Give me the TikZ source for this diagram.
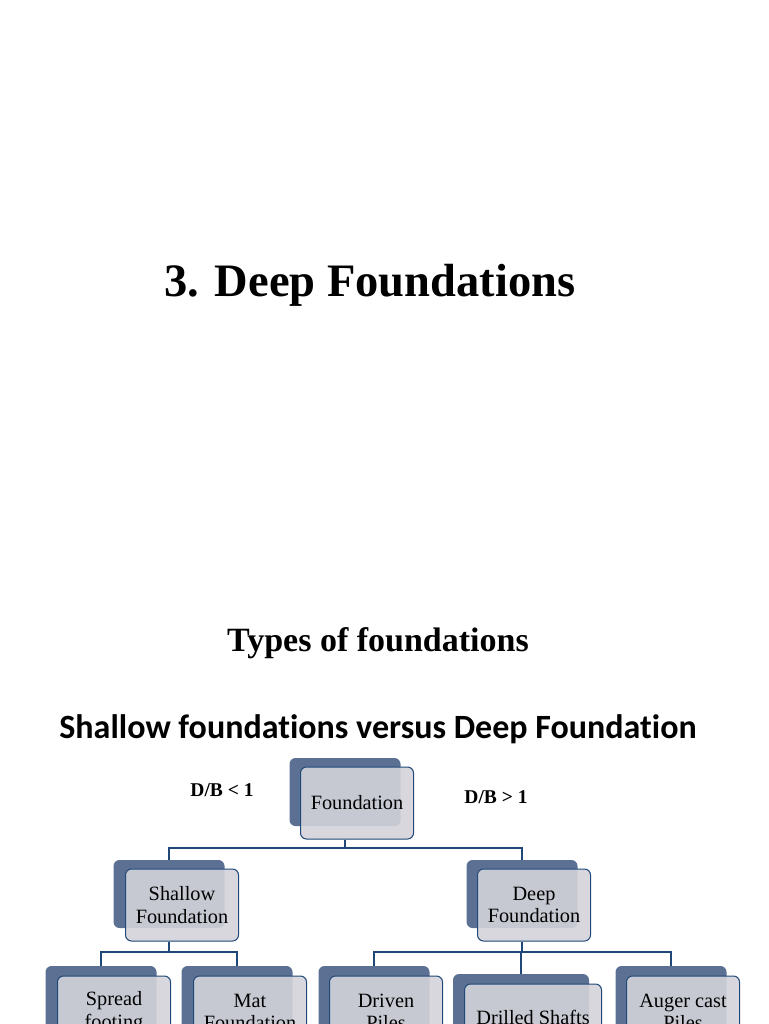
\documentclass[tikz,border=0pt]{standalone}
\usepackage{fontspec}
\setmainfont{Liberation Serif}
\newfontfamily\carlitofont[Ligatures={NoCommon}]{Carlito}
\begin{document}
\begin{tikzpicture}[x=1pt,y=-1pt,
 back/.style={fill=backblue,rounded corners=6pt,minimum width=111pt,minimum height=68pt,inner sep=0},
 front/.style={fill=frontgray,fill opacity=0.9,text opacity=1,draw=lineblue,line width=1pt,rounded corners=6pt,minimum width=113pt,minimum height=72pt,align=center,font=\fontsize{20.3}{22.5}\selectfont,inner sep=0},
 conn/.style={draw=lineblue,line width=1.5pt}]
\definecolor{backblue}{HTML}{5B7092}
\definecolor{frontgray}{HTML}{D3D3D9}
\definecolor{lineblue}{HTML}{1F4878}
\useasboundingbox (0,0) rectangle (768,1024);
\node (t1) at (370,285) {\fontsize{46.5}{52}\selectfont\bfseries 3. Deep Foundations};
\node (t2) at (378,643) {\fontsize{34}{38}\selectfont\bfseries Types of foundations};
\node (t3) at (378,729) {\carlitofont\fontsize{34}{38}\selectfont\bfseries Shallow foundations versus Deep Foundation};
\node (lb1) at (222,790) {\fontsize{19.5}{22}\selectfont\bfseries D/B < 1};
\node (lb2) at (496,797) {\fontsize{19.5}{22}\selectfont\bfseries D/B > 1};
% boxes
\node[back] (fb) at (345,792) {};
\node[front] (f) at (357,803) {Foundation};
\node[back] (sb) at (169,894) {};
\node[front] (s) at (182,905) {Shallow\\Foundation};
\node[back] (db) at (522,894) {};
\node[front] (d) at (534,905) {Deep\\Foundation};
\node[back] (spb) at (101,1000) {};
\node[front] (sp) at (114,1012) {Spread\\footing};
\node[back] (mb) at (237,1000) {};
\node[front] (m) at (250,1012) {Mat\\Foundation};
\node[back] (drb) at (374,1000) {};
\node[front] (dr) at (386,1012) {Driven\\Piles};
\node[back,minimum width=136pt] (dsb) at (521,1008) {};
\node[front,minimum width=137pt] (ds) at (533,1020) {\raisebox{6pt}{Drilled Shafts}};
\node[back] (ab) at (671,1000) {};
\node[front] (a) at (683,1012) {Auger cast\\Piles};
% connectors
\coordinate (j1) at (345,848);
\coordinate (j2) at (169,952);
\coordinate (j3) at (522,952);
\draw[conn] (f.south -| j1) -- (j1);
\draw[conn] (j1) -| (sb.north);
\draw[conn] (j1) -| (db.north);
\draw[conn] (s.south -| j2) -- (j2);
\draw[conn] (j2) -| (spb.north);
\draw[conn] (j2) -| (mb.north);
\draw[conn] (d.south -| j3) -- (j3);
\draw[conn] (j3) -| (drb.north);
\draw[conn] (j3) -| (dsb.north);
\draw[conn] (j3) -| (ab.north);
\end{tikzpicture}
\end{document}
